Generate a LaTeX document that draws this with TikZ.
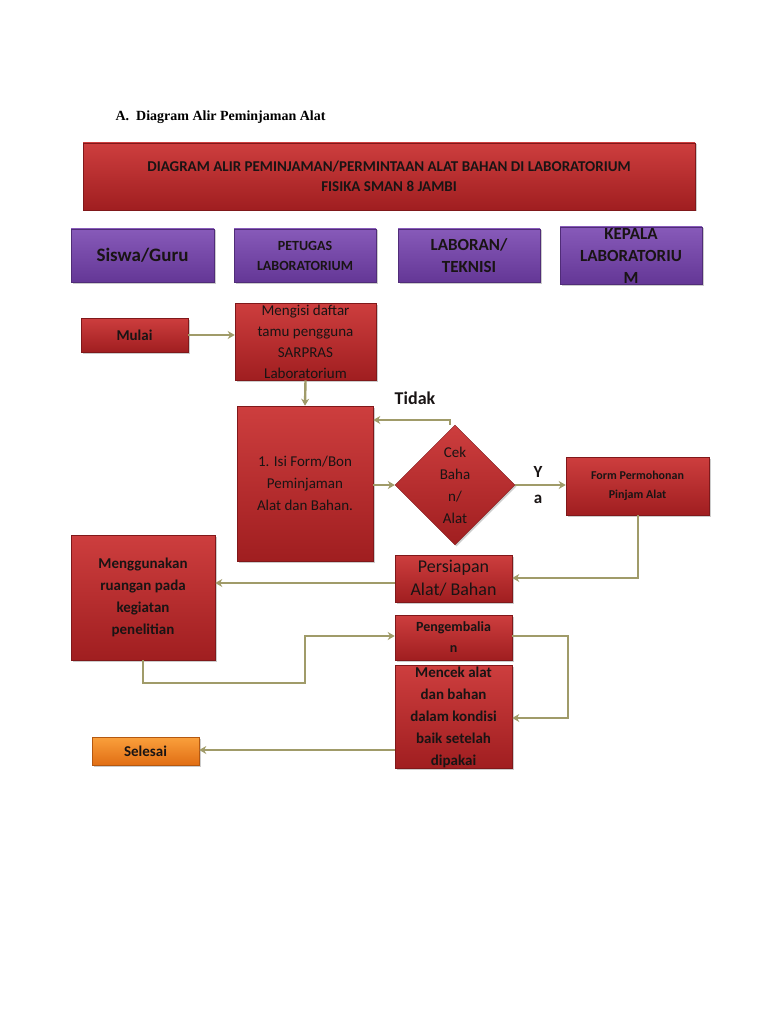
\documentclass[tikz,border=0pt]{standalone}
\usepackage{fontspec}
\setmainfont{Carlito}
\newfontfamily\serifb{Liberation Serif}
\usetikzlibrary{shapes.geometric,arrows.meta,shadows}
\definecolor{redA}{RGB}{205,62,62}
\definecolor{redB}{RGB}{160,30,32}
\definecolor{purA}{RGB}{135,90,185}
\definecolor{purB}{RGB}{100,55,150}
\definecolor{orgA}{RGB}{250,160,60}
\definecolor{orgB}{RGB}{225,110,20}
\definecolor{olive}{RGB}{160,155,105}
\definecolor{txt}{RGB}{25,20,20}
\begin{document}
\begin{tikzpicture}[x=1pt,y=-1pt,
 box/.style={draw=redB!80!black,line width=0.6pt,top color=redA,bottom color=redB,drop shadow={shadow xshift=1.5pt,shadow yshift=-1.5pt,opacity=0.4},text=txt,align=center,inner sep=1pt},
 lane/.style={draw=purB!80!black,line width=0.6pt,top color=purA,bottom color=purB,drop shadow={shadow xshift=1.5pt,shadow yshift=-1.5pt,opacity=0.4},text=txt,align=center,font=\bfseries,inner sep=1pt},
 arr/.style={draw=olive,line width=2.4pt,-{Stealth[length=7pt,width=8pt]}},
 ln/.style={draw=olive,line width=2.4pt}]
\useasboundingbox (0,0) rectangle (768,1024);
\fill[white] (0,0) rectangle (768,1024);
\node[anchor=west,font=\serifb\bfseries\fontsize{14}{16}\selectfont] (ttl) at (112,117) {A.\ \ Diagram Alir Peminjaman Alat};
\node[box,minimum width=612pt,minimum height=67pt,font=\bfseries\fontsize{15}{20}\selectfont] (hdr) at (389,176.5) {DIAGRAM ALIR PEMINJAMAN/PERMINTAAN ALAT BAHAN DI LABORATORIUM\\FISIKA SMAN 8 JAMBI};
\node[lane,minimum width=143pt,minimum height=53pt,font=\bfseries\fontsize{19}{22}\selectfont] (l1) at (142.5,255.5) {Siswa/Guru};
\node[lane,minimum width=142pt,minimum height=53pt,font=\bfseries\fontsize{14}{20}\selectfont] (l2) at (305,255.5) {PETUGAS\\LABORATORIUM};
\node[lane,minimum width=142pt,minimum height=53pt,font=\bfseries\fontsize{17}{22}\selectfont] (l3) at (469,255.5) {LABORAN/\\TEKNISI};
\node[lane,minimum width=142pt,minimum height=53pt,font=\bfseries\fontsize{17}{22}\selectfont] (l4) at (631,255.5) {KEPALA\\LABORATORIU\\M};
\node[box,minimum width=107pt,minimum height=34pt,font=\bfseries\fontsize{15}{18}\selectfont] (mulai) at (134.5,335) {Mulai};
\node[box,minimum width=141pt,minimum height=77pt,font=\fontsize{15}{21}\selectfont] (isi1) at (305.5,341.5) {Mengisi daftar\\tamu pengguna\\SARPRAS\\Laboratorium};
\node[box,minimum width=136pt,minimum height=155pt,font=\fontsize{15}{22}\selectfont] (form) at (305,483.5) {1. Isi Form/Bon\\Peminjaman\\Alat dan Bahan.};
\node[diamond,aspect=1,draw=redB!80!black,top color=redA,bottom color=redB,minimum width=120pt,minimum height=120pt,inner sep=0pt,drop shadow={shadow xshift=1.5pt,shadow yshift=-1.5pt,opacity=0.4}] (cek) at (455,485) {};
\node[text=txt,align=center,font=\fontsize{15}{22}\selectfont] (cekt) at (455,485) {Cek\\Baha\\n/\\Alat};
\node[box,minimum width=143pt,minimum height=58pt,font=\bfseries\fontsize{12}{19}\selectfont] (fp) at (637.5,486) {Form Permohonan\\Pinjam Alat};
\node[box,minimum width=117pt,minimum height=47pt,font=\fontsize{18}{23}\selectfont] (pers) at (453.5,578.5) {Persiapan\\Alat/ Bahan};
\node[box,minimum width=144pt,minimum height=125pt,font=\bfseries\fontsize{15}{22}\selectfont] (meng) at (143,597.5) {Menggunakan\\ruangan pada\\kegiatan\\penelitian};
\node[box,minimum width=117pt,minimum height=45pt,font=\bfseries\fontsize{14}{21}\selectfont] (peng) at (453.5,637.5) {Pengembalia\\n};
\node[box,minimum width=117pt,minimum height=98pt,font=\bfseries\fontsize{15}{22}\selectfont] (menc) at (453.5,717) {Mencek alat\\dan bahan\\dalam kondisi\\baik setelah\\dipakai};
\node[draw=orgB!80!black,line width=0.6pt,top color=orgA,bottom color=orgB,drop shadow={shadow xshift=1.5pt,shadow yshift=-1.5pt,opacity=0.4},text=txt,minimum width=107pt,minimum height=28pt,font=\bfseries\fontsize{15}{18}\selectfont] (sel) at (145.5,751) {Selesai};
\node[font=\bfseries\fontsize{18}{20}\selectfont,text=txt] (tidak) at (415,398) {Tidak};
\node[font=\bfseries\fontsize{17}{26}\selectfont,text=txt,align=center] (ya) at (538,485) {Y\\a};
\coordinate (c1) at (450,420);
\coordinate (c2) at (638,578);
\coordinate (c3) at (143,683);
\coordinate (c4) at (305,683);
\coordinate (c5) at (305,636);
\coordinate (c6) at (568,636);
\coordinate (c7) at (568,718);
\draw[arr] (mulai.east) -- (isi1.west |- mulai.east);
\draw[arr] (isi1.south) -- (form.north);
\draw[arr] (form.east |- cek.west) -- (cek.west);
\draw[arr] (cek.north -| c1) -- (c1) -- (form.east |- c1);
\draw[arr] (cek.east) -- (fp.west |- cek.east);
\draw[arr] (fp.south -| c2) -- (c2) -- (pers.east |- c2);
\draw[arr] (pers.west |- 0,583) -- (meng.east |- 0,583);
\draw[arr] (meng.south) -- (c3) -- (c4) -- (c5) -- (peng.west |- c5);
\draw[arr] (peng.east |- c6) -- (c6) -- (c7) -- (menc.east |- c7);
\draw[arr] (menc.west |- 0,750) -- (sel.east |- 0,750);
\end{tikzpicture}
\end{document}
